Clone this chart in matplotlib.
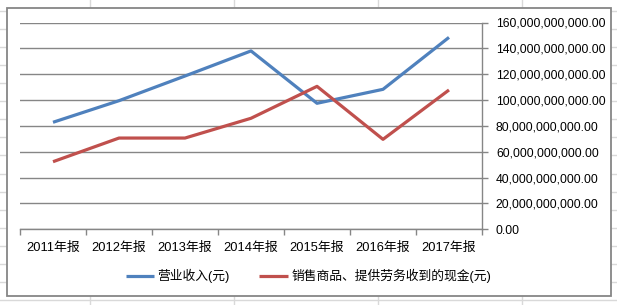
import numpy as np
import matplotlib.pyplot as plt
from matplotlib.lines import Line2D
from matplotlib.patches import Rectangle
from matplotlib.ticker import FuncFormatter, FixedLocator

plt.rcParams['font.family'] = ['Liberation Sans', 'Noto Sans CJK SC', 'DejaVu Sans']

# data
years = ['2011年报', '2012年报', '2013年报', '2014年报', '2015年报', '2016年报', '2017年报']
revenue = [82.8e9, 99.5e9, 118.6e9, 138.0e9, 97.5e9, 108.3e9, 148.5e9]
cash_in = [52.3e9, 70.6e9, 70.6e9, 85.9e9, 110.6e9, 69.6e9, 107.8e9]
labels = ['营业收入(元)', '销售商品、提供劳务收到的现金(元)']

W, H = 617, 305
fig = plt.figure(figsize=(W / 100, H / 100), dpi=100)

def fx(px):
    return px / W

def fy(py):
    return 1 - py / H

# spreadsheet cell lines behind the chart
cell = '#d9d9d9'
for x in [89.5, 233.5, 377.5, 521.5]:
    fig.add_artist(Line2D([fx(x), fx(x)], [0, 1], color=cell, lw=1, zorder=0))
for y in np.arange(11, 305, 18.06):
    fig.add_artist(Line2D([0, 1], [fy(y), fy(y)], color=cell, lw=1, zorder=0))

# chart frame
fig.add_artist(Rectangle((fx(7), fy(296)), fx(604), 288 / H, transform=fig.transFigure,
                         facecolor='white', edgecolor='#868686', lw=1.3, zorder=1))

ax = fig.add_axes([fx(20), fy(229.3), fx(462), (229.3 - 22.5) / H], zorder=2)
ax.set_facecolor('none')

x = np.arange(len(years))
ax.plot(x, revenue, color='#4f81bd', lw=2.3, solid_capstyle='butt', label=labels[0])
ax.plot(x, cash_in, color='#c0504d', lw=2.3, solid_capstyle='butt', label=labels[1])

ax.set_xlim(-0.5, len(years) - 0.5)
ax.set_ylim(0, 160e9)

grey = '#868686'
ax.yaxis.tick_right()
ax.set_yticks(np.arange(0, 160e9 + 1, 20e9))
ax.yaxis.set_major_formatter(FuncFormatter(lambda v, p: f'{v:,.2f}'))
ax.tick_params(axis='y', length=4, width=1, color=grey, pad=6, labelsize=8.7)
ax.grid(axis='y', color=grey, lw=1)

ax.set_xticks(x)
ax.set_xticklabels(years)
ax.xaxis.set_minor_locator(FixedLocator(np.arange(-0.5, len(years), 1)))
ax.tick_params(axis='x', which='major', length=0, pad=9, labelsize=9.3)
ax.tick_params(axis='x', which='minor', length=4, width=1, color=grey)

for s in ['top', 'left']:
    ax.spines[s].set_visible(False)
for s in ['right', 'bottom']:
    ax.spines[s].set_color(grey)
    ax.spines[s].set_linewidth(1)

fig.legend(loc='center', bbox_to_anchor=(0.5, fy(276)), ncol=2, frameon=False,
           fontsize=9.2, handlelength=2.2, handletextpad=0.3, columnspacing=2.3)

fig.savefig('out.png', dpi=100)
